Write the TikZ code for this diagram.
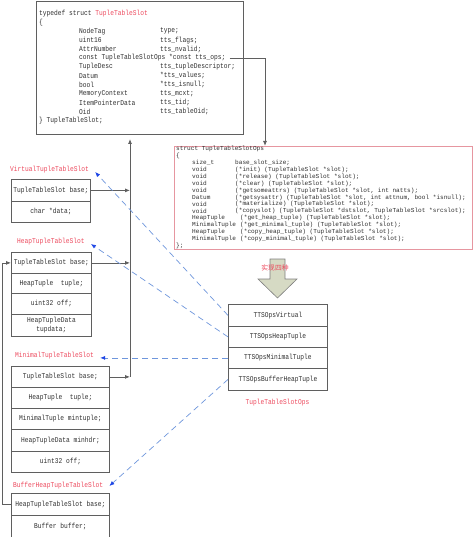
\documentclass[tikz,border=0pt]{standalone}
\usepackage{fontspec}
\setmainfont{Liberation Serif}
\newfontfamily\simfont[FakeStretch=0.85]{Liberation Mono}
\newfontfamily\courfont{Liberation Mono}
\newfontfamily\cjk{Noto Sans CJK SC}
\usetikzlibrary{arrows.meta}
\definecolor{lblred}{RGB}{236,72,92}
\definecolor{boxgray}{RGB}{95,95,95}
\definecolor{txtgray}{RGB}{45,45,45}
\definecolor{pinkline}{RGB}{230,150,160}
\definecolor{dashblue}{RGB}{110,150,220}
\definecolor{tipblue}{RGB}{30,70,230}
\definecolor{arrowfill}{RGB}{214,218,196}
\begin{document}
\begin{tikzpicture}[x=1pt,y=-1pt,
  code/.style={font=\simfont\fontsize{7.35}{9}\selectfont, text=txtgray, inner sep=0pt, anchor=west},
  ops/.style={font=\courfont\fontsize{6.1}{7}\selectfont, text=txtgray, inner sep=0pt, anchor=west},
  cell/.style={draw=boxgray, line width=0.8pt, inner sep=0pt, anchor=north west, align=center,
    font=\simfont\fontsize{7.35}{9}\selectfont, text=txtgray},
  lbl/.style={font=\simfont\fontsize{7.35}{9}\selectfont, text=lblred, inner sep=0pt, anchor=west},
  conn/.style={draw=boxgray, line width=0.8pt, -{Latex[length=5pt,width=4pt]}},
  impl/.style={draw=dashblue, line width=0.7pt, dash pattern=on 6pt off 4pt, -{Latex[length=5pt,width=4pt,color=tipblue]}}
]
\useasboundingbox (0,0) rectangle (474,537);

% ---- typedef struct TupleTableSlot
\node[draw=boxgray, line width=0.8pt, minimum width=207pt, minimum height=133pt, inner sep=0pt, anchor=north west] (tts) at (36,1) {};
\node[code] (t0) at (39,13.3) {typedef struct \textcolor{lblred}{TupleTableSlot}};
\node[code] (t1) at (39,22.25) {\{};
\node[code] (a2) at (79,31.2) {NodeTag};
\node[code] (b2) at (160,31.2) {type;};
\node[code] (a3) at (79,40.15) {uint16};
\node[code] (b3) at (160,40.15) {tts\_flags;};
\node[code] (a4) at (79,49.1) {AttrNumber};
\node[code] (b4) at (160,49.1) {tts\_nvalid;};
\node[code] (opsfield) at (79,58.05) {const TupleTableSlotOps *const tts\_ops;};
\node[code] (a6) at (79,67) {TupleDesc};
\node[code] (b6) at (160,67) {tts\_tupleDescriptor;};
\node[code] (a7) at (79,75.95) {Datum};
\node[code] (b7) at (160,75.95) {*tts\_values;};
\node[code] (a8) at (79,84.9) {bool};
\node[code] (b8) at (160,84.9) {*tts\_isnull;};
\node[code] (a9) at (79,93.85) {MemoryContext};
\node[code] (b9) at (160,93.85) {tts\_mcxt;};
\node[code] (a10) at (79,102.8) {ItemPointerData};
\node[code] (b10) at (160,102.8) {tts\_tid;};
\node[code] (a11) at (79,111.75) {Oid};
\node[code] (b11) at (160,111.75) {tts\_tableOid;};
\node[code] (t12) at (39,120.7) {\} TupleTableSlot;};

% ---- struct TupleTableSlotOps
\node[draw=pinkline, line width=0.8pt, minimum width=298pt, minimum height=103pt, inner sep=0pt, anchor=north west] (sops) at (174,146) {};
\node[ops] (s0) at (176,148.8) {struct TupleTableSlotOps};
\node[ops] (s1) at (176,155.75) {\{};
\node[ops] (p2) at (192,162.7) {size\_t};
\node[ops] (q2) at (235,162.7) {base\_slot\_size;};
\node[ops] (p3) at (192,169.65) {void};
\node[ops] (q3) at (235,169.65) {(*init) (TupleTableSlot *slot);};
\node[ops] (p4) at (192,176.6) {void};
\node[ops] (q4) at (235,176.6) {(*release) (TupleTableSlot *slot);};
\node[ops] (p5) at (192,183.55) {void};
\node[ops] (q5) at (235,183.55) {(*clear) (TupleTableSlot *slot);};
\node[ops] (p6) at (192,190.5) {void};
\node[ops] (q6) at (235,190.5) {(*getsomeattrs) (TupleTableSlot *slot, int natts);};
\node[ops] (p7) at (192,197.45) {Datum};
\node[ops] (q7) at (235,197.45) {(*getsysattr) (TupleTableSlot *slot, int attnum, bool *isnull);};
\node[ops] (p8) at (192,204.4) {void};
\node[ops] (q8) at (235,204.4) {(*materialize) (TupleTableSlot *slot);};
\node[ops] (p9) at (192,211.35) {void};
\node[ops] (q9) at (235,211.35) {(*copyslot) (TupleTableSlot *dstslot, TupleTableSlot *srcslot);};
\node[ops] (p10) at (192,218.3) {HeapTuple};
\node[ops] (q10) at (240,218.3) {(*get\_heap\_tuple) (TupleTableSlot *slot);};
\node[ops] (p11) at (192,225.25) {MinimalTuple};
\node[ops] (q11) at (240,225.25) {(*get\_minimal\_tuple) (TupleTableSlot *slot);};
\node[ops] (p12) at (192,232.2) {HeapTuple};
\node[ops] (q12) at (240,232.2) {(*copy\_heap\_tuple) (TupleTableSlot *slot);};
\node[ops] (p13) at (192,239.15) {MinimalTuple};
\node[ops] (q13) at (240,239.15) {(*copy\_minimal\_tuple) (TupleTableSlot *slot);};
\node[ops] (s14) at (176,246.1) {\};};

\coordinate (opsin) at (265,146);
\draw[conn] ([xshift=4pt]opsfield.east) -| (opsin);

% ---- big arrow
\draw[draw=boxgray!80, line width=0.6pt, fill=arrowfill] (270,259) -- (285,259) -- (285,279) -- (297,279) -- (277.5,298) -- (258,279) -- (270,279) -- cycle;
\node[font=\cjk\fontsize{6.8}{8}\selectfont, text=lblred, inner sep=0pt] (impltxt) at (275,268) {实现四种};

% ---- TTSOps box
\node[cell, minimum width=99pt, minimum height=22pt] (o1) at (228,304) {TTSOpsVirtual};
\node[cell, minimum width=99pt, minimum height=21pt] (o2) at (228,326) {TTSOpsHeapTuple};
\node[cell, minimum width=99pt, minimum height=21pt] (o3) at (228,347) {TTSOpsMinimalTuple};
\node[cell, minimum width=99pt, minimum height=22pt] (o4) at (228,368) {TTSOpsBufferHeapTuple};
\node[lbl, anchor=center] (opslab) at (277.5,403) {TupleTableSlotOps};

% ---- Virtual
\node[lbl] (vlab) at (10,170) {VirtualTupleTableSlot};
\node[cell, minimum width=79pt, minimum height=22pt] (v1) at (11,179) {TupleTableSlot base;};
\node[cell, minimum width=79pt, minimum height=21pt] (v2) at (11,201) {char *data;};

% ---- Heap
\node[lbl] (hlab) at (17,242) {HeapTupleTableSlot};
\node[cell, minimum width=80pt, minimum height=21pt] (h1) at (11,252) {TupleTableSlot base;};
\node[cell, minimum width=80pt, minimum height=20pt] (h2) at (11,273) {HeapTuple\ \ tuple;};
\node[cell, minimum width=80pt, minimum height=21pt] (h3) at (11,293) {uint32 off;};
\node[cell, minimum width=80pt, minimum height=22pt] (h4) at (11,314) {HeapTupleData\\tupdata;};

% ---- Minimal
\node[lbl] (mlab) at (15,356) {MinimalTupleTableSlot};
\node[cell, minimum width=98pt, minimum height=21pt] (m1) at (11,366) {TupleTableSlot base;};
\node[cell, minimum width=98pt, minimum height=21pt] (m2) at (11,387) {HeapTuple\ \ tuple;};
\node[cell, minimum width=98pt, minimum height=21pt] (m3) at (11,408) {MinimalTuple mintuple;};
\node[cell, minimum width=98pt, minimum height=22pt] (m4) at (11,429) {HeapTupleData minhdr;};
\node[cell, minimum width=98pt, minimum height=21pt] (m5) at (11,451) {uint32 off;};

% ---- BufferHeap
\node[lbl] (blab) at (13,486) {BufferHeapTupleTableSlot};
\node[cell, minimum width=98pt, minimum height=22pt] (b1) at (11,493) {HeapTupleTableSlot base;};
\node[cell, minimum width=98pt, minimum height=22pt] (b2) at (11,515) {Buffer buffer;};
\draw[draw=boxgray, line width=0.8pt] (b2.south west) -- (11,540);
\draw[draw=boxgray, line width=0.8pt] (b2.south east) -- (109,540);
\fill[white] (10,536.6) rectangle (110,545);

% ---- inheritance arrows to TupleTableSlot
\coordinate (vtop) at (130,139);
\draw[conn] (v1.east) -- (v1.east -| vtop);
\draw[conn] (h1.east) -- (h1.east -| vtop);
\draw[conn] (m1.east) -- (m1.east -| vtop);
\draw[conn] (m1.east -| vtop) -- (vtop);
\draw[conn] (b1.west) -- ++(-9,0) |- (h1.west);

% ---- implementation arrows
\coordinate (vtip) at ([xshift=6pt,yshift=-2pt]vlab.east);
\coordinate (htip) at ([xshift=6pt,yshift=-2pt]hlab.east);
\coordinate (mtip) at ([xshift=6pt]mlab.east);
\coordinate (btip) at ([xshift=6pt]blab.east);
\draw[impl] (o1.west) -- (vtip);
\draw[impl] (o2.west) -- (htip);
\draw[impl] (o3.west) -- (mtip |- o3.west);
\draw[impl] (o4.west) -- (btip);
\end{tikzpicture}
\end{document}
